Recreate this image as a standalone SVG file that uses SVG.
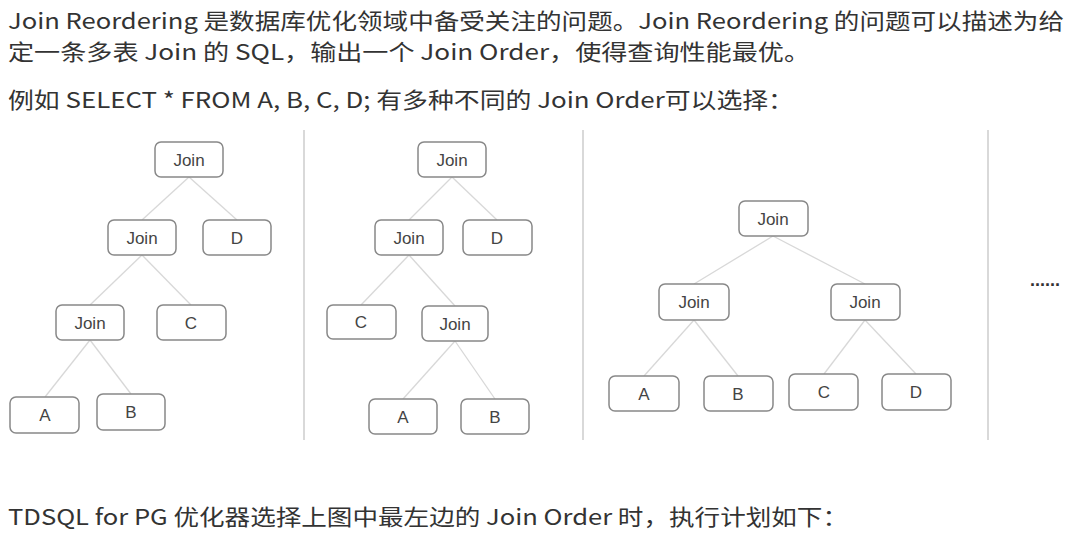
<svg xmlns="http://www.w3.org/2000/svg" width="1080" height="543" viewBox="0 0 1080 543">
<style>
.t{font-family:"Noto Sans CJK SC","Liberation Sans",sans-serif;font-size:22px;fill:#333}
.b{fill:#fff;stroke:#888;stroke-width:1.5}
.l{font-family:"Liberation Sans",Arial,sans-serif;font-size:17px;fill:#444;text-anchor:middle}
.c line{stroke:#d8d8d8;stroke-width:1.3}
.d{stroke:#ccc;stroke-width:1.5}
</style>
<rect width="1080" height="543" fill="#fff"/>
<text class="t" x="8" y="29" textLength="1056" lengthAdjust="spacingAndGlyphs">Join Reordering 是数据库优化领域中备受关注的问题。Join Reordering 的问题可以描述为给</text>
<text class="t" x="8" y="60" textLength="802" lengthAdjust="spacingAndGlyphs">定一条多表 Join 的 SQL，输出一个 Join Order，使得查询性能最优。</text>
<text class="t" x="8" y="108" textLength="786" lengthAdjust="spacingAndGlyphs">例如 SELECT * FROM A, B, C, D; 有多种不同的 Join Order可以选择：</text>
<text class="t" x="8" y="525" textLength="840" lengthAdjust="spacingAndGlyphs">TDSQL for PG 优化器选择上图中最左边的 Join Order 时，执行计划如下：</text>
<line class="d" x1="304" y1="130" x2="304" y2="440"/>
<line class="d" x1="583" y1="130" x2="583" y2="440"/>
<line class="d" x1="988" y1="130" x2="988" y2="440"/>
<g class="c" id="connectors">
<line x1="189" y1="177" x2="142" y2="220"/><line x1="189" y1="177" x2="237" y2="220"/>
<line x1="142" y1="255" x2="90" y2="305"/><line x1="142" y1="255" x2="191" y2="305"/>
<line x1="90" y1="340" x2="45" y2="397"/><line x1="90" y1="340" x2="131" y2="394"/>
<line x1="452" y1="177" x2="409" y2="220"/><line x1="452" y1="177" x2="497" y2="220"/>
<line x1="409" y1="255" x2="361" y2="305"/><line x1="409" y1="255" x2="455" y2="306"/>
<line x1="455" y1="341" x2="403" y2="399"/><line x1="455" y1="341" x2="495" y2="399"/>
<line x1="773" y1="236" x2="694" y2="284"/><line x1="773" y1="236" x2="865" y2="284"/>
<line x1="694" y1="320" x2="644" y2="376"/><line x1="694" y1="320" x2="738" y2="376"/>
<line x1="865" y1="320" x2="824" y2="374"/><line x1="865" y1="320" x2="916" y2="374"/>
</g>
<g id="t1j1"><rect class="b" x="155" y="142" width="68" height="35" rx="6"/><text class="l" x="189" y="166">Join</text></g>
<g id="t1j2"><rect class="b" x="108" y="220" width="68" height="35" rx="6"/><text class="l" x="142" y="244">Join</text></g>
<g id="t1d"><rect class="b" x="203" y="220" width="68" height="35" rx="6"/><text class="l" x="237" y="244">D</text></g>
<g id="t1j3"><rect class="b" x="56" y="305" width="68" height="35" rx="6"/><text class="l" x="90" y="329">Join</text></g>
<g id="t1c"><rect class="b" x="157" y="305" width="69" height="35" rx="6"/><text class="l" x="191" y="329">C</text></g>
<g id="t1a"><rect class="b" x="10" y="397" width="69" height="36" rx="6"/><text class="l" x="45" y="421">A</text></g>
<g id="t1b"><rect class="b" x="97" y="394" width="68" height="36" rx="6"/><text class="l" x="131" y="418">B</text></g>
<g id="t2j1"><rect class="b" x="418" y="142" width="68" height="35" rx="6"/><text class="l" x="452" y="166">Join</text></g>
<g id="t2j2"><rect class="b" x="375" y="220" width="68" height="35" rx="6"/><text class="l" x="409" y="244">Join</text></g>
<g id="t2d"><rect class="b" x="463" y="220" width="69" height="35" rx="6"/><text class="l" x="497" y="244">D</text></g>
<g id="t2c"><rect class="b" x="327" y="305" width="69" height="34" rx="6"/><text class="l" x="361" y="328">C</text></g>
<g id="t2j3"><rect class="b" x="422" y="306" width="66" height="35" rx="6"/><text class="l" x="455" y="330">Join</text></g>
<g id="t2a"><rect class="b" x="369" y="399" width="68" height="35" rx="6"/><text class="l" x="403" y="423">A</text></g>
<g id="t2b"><rect class="b" x="461" y="399" width="68" height="35" rx="6"/><text class="l" x="495" y="423">B</text></g>
<g id="t3j1"><rect class="b" x="739" y="201" width="69" height="35" rx="6"/><text class="l" x="773" y="225">Join</text></g>
<g id="t3j2"><rect class="b" x="659" y="284" width="70" height="36" rx="6"/><text class="l" x="694" y="308">Join</text></g>
<g id="t3j3"><rect class="b" x="831" y="284" width="69" height="36" rx="6"/><text class="l" x="865" y="308">Join</text></g>
<g id="t3a"><rect class="b" x="609" y="376" width="70" height="35" rx="6"/><text class="l" x="644" y="400">A</text></g>
<g id="t3b"><rect class="b" x="704" y="376" width="69" height="35" rx="6"/><text class="l" x="738" y="400">B</text></g>
<g id="t3c"><rect class="b" x="789" y="374" width="69" height="36" rx="6"/><text class="l" x="824" y="398">C</text></g>
<g id="t3d"><rect class="b" x="882" y="374" width="69" height="36" rx="6"/><text class="l" x="916" y="398">D</text></g>
<text x="1045" y="286" font-family="Liberation Sans,sans-serif" font-size="18" font-weight="bold" fill="#333" text-anchor="middle">......</text>
</svg>
